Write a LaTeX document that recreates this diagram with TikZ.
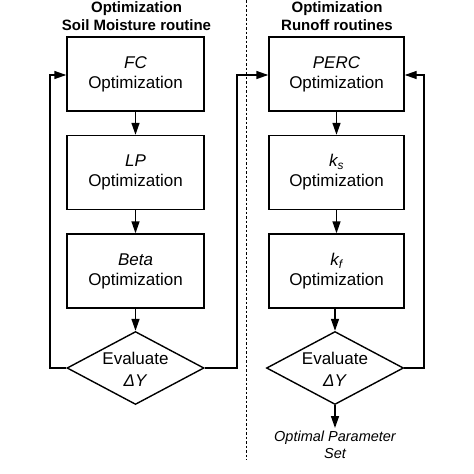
\documentclass[tikz,border=0pt]{standalone}
\usepackage{fontspec}
\setmainfont{Liberation Sans}
\usetikzlibrary{arrows.meta,shapes.geometric}
\begin{document}
\begin{tikzpicture}[x=1pt,y=1pt,
  lw/.style={line width=1.4pt},
  procbox/.style={draw,lw,minimum width=137pt,minimum height=74pt,inner sep=0pt,align=center,font=\fontsize{17}{20}\selectfont},
  decision/.style={draw,lw,diamond,minimum width=137pt,minimum height=73pt,inner sep=0pt},
  dtext/.style={align=center,inner sep=0pt,font=\fontsize{17}{22}\selectfont},
  title/.style={align=center,inner sep=0pt,font=\fontsize{15}{18}\selectfont\bfseries},
  flow/.style={lw,-{Triangle[length=12pt,width=8pt]}},
  outtext/.style={align=center,inner sep=3pt,font=\fontsize{14.5}{17}\selectfont\itshape}
]
\useasboundingbox (0,0) rectangle (474,-474);
\fill[white] (0,0) rectangle (474,-474);
% separator
\draw[line width=0.9pt,dash pattern=on 2.5pt off 2pt] (246,0) -- (246,-460);
% titles
\node[title] (t1) at (136.5,-16) {Optimization\\Soil Moisture routine};
\node[title] (t2) at (337,-16) {Optimization\\Runoff routines};
% left column
\node[procbox] (b1) at (135.5,-74) {\textit{FC}\\Optimization};
\node[procbox] (b2) at (135.5,-172.5) {\textit{LP}\\Optimization};
\node[procbox] (b3) at (135.5,-271) {\textit{Beta}\\Optimization};
\node[decision] (d1) at (135.5,-368) {};
\node[dtext] (e1) at (135.5,-369) {Evaluate\\\textit{ΔY}};
% right column
\node[procbox,minimum width=135pt] (b4) at (336.5,-74) {\textit{PERC}\\Optimization};
\node[procbox,minimum width=135pt] (b5) at (336.5,-172.5) {\textit{k\textsubscript{s}}\\Optimization};
\node[procbox,minimum width=135pt] (b6) at (336.5,-271) {\textit{k\textsubscript{f}}\\Optimization};
\node[decision] (d2) at (335,-368) {};
\node[dtext] (e2) at (335,-369) {Evaluate\\\textit{ΔY}};
\node[outtext,anchor=north] (out) at (335,-428) {Optimal Parameter\\Set};
% flows
\draw[flow] (b1) -- (b2);
\draw[flow] (b2) -- (b3);
\draw[flow] (b3) -- (d1);
\draw[flow] (b4.south -| b5) -- (b5);
\draw[flow] (b5) -- (b6);
\draw[flow] (b6.south -| d2) -- (d2.north);
\draw[flow] (d2.south) -- (out.north);
% loops
\draw[flow] (d1.west) -- (50,-368) -- (50,-75) -- (b1.west |- 0,-75);
\draw[flow] (d1.east) -- (237,-368) -- (237,-75) -- (b4.west |- 0,-75);
\draw[flow] (d2.east) -- (424,-368) -- (424,-75) -- (b4.east |- 0,-75);
\end{tikzpicture}
\end{document}
